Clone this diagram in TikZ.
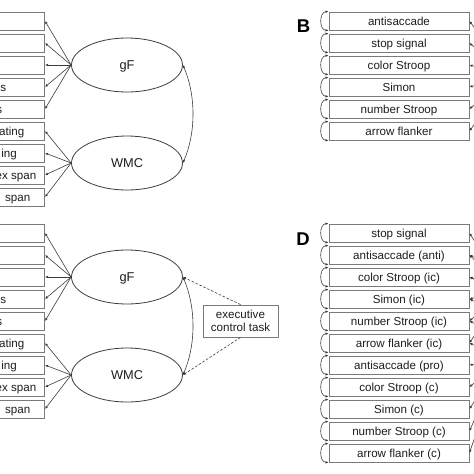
\documentclass[tikz,border=0pt]{standalone}
\usepackage{fontspec}
\setmainfont{Liberation Sans}
\usetikzlibrary{shapes.geometric,arrows.meta}
\definecolor{boxc}{HTML}{7A7A7A}
\definecolor{linec}{HTML}{3C3C3C}
\definecolor{txt}{HTML}{1E1E1E}
\begin{document}
\begin{tikzpicture}[x=1pt,y=-1pt,
  box/.style={draw=boxc, line width=0.9pt, minimum height=18pt, inner sep=0pt,
    text height=8.4pt, text depth=0pt, font=\fontsize{11.6}{13}\selectfont, text=txt},
  abox/.style={box, minimum width=100pt, anchor=east},
  rbox/.style={box, minimum width=140pt},
  btxt/.style={font=\fontsize{11.6}{13}\selectfont, text=txt, inner sep=0pt, anchor=base east},
  lat/.style={ellipse, draw=linec, line width=0.8pt, minimum width=111pt, minimum height=54pt,
    inner sep=0pt, text height=9.2pt, text depth=0pt, font=\fontsize{12.8}{14}\selectfont, text=txt},
  exbox/.style={draw=boxc, line width=0.9pt, minimum width=75pt, minimum height=32pt, inner sep=0pt,
    align=center, font=\fontsize{11.6}{13.6}\selectfont, text=txt},
  tip/.tip={Latex[length=3pt,width=2.6pt]},
  arr/.style={draw=linec, line width=0.6pt, -tip},
  biarr/.style={draw=linec, line width=0.6pt, tip-tip},
  dasharr/.style={draw=linec, line width=0.6pt, dashed, dash pattern=on 2.5pt off 1.8pt, -tip},
  panel/.style={font=\bfseries\fontsize{18.5}{20}\selectfont, text=black, inner sep=0pt}]
\useasboundingbox (0,0) rectangle (474,474);
\clip (0,0) rectangle (474,474);
\fill[white] (0,0) rectangle (474,474);

% ---------- panel A (top left) ----------
\foreach \i in {1,...,9} {
  \node[abox] (a\i) at (45,{21+22*(\i-1)}) {};
}
\node[btxt] (at4) at (6.5,91.2) {es};
\node[btxt] (at5) at (2.5,113.2) {s};
\node[btxt] (at6) at (24.5,135.2) {ating};
\node[btxt] (at7) at (17,157.2) {ing};
\node[btxt] (at8) at (36.5,179.2) {ex span};
\node[btxt] (at9) at (30.5,201.2) {span};
\node[lat] (gFa) at (127,65) {gF};
\node[lat] (WMCa) at (127,163) {WMC};
\foreach \i in {1,...,5} { \draw[arr] (gFa.west) -- (a\i.east); }
\foreach \i in {6,...,9} { \draw[arr] (WMCa.west) -- (a\i.east); }
\draw[biarr] (gFa.east) .. controls (196,95) and (196,133) .. (WMCa.east);

% ---------- panel C (bottom left) ----------
\foreach \i in {1,...,9} {
  \node[abox] (c\i) at (45,{233+22*(\i-1)}) {};
}
\node[btxt] (ct4) at (6.5,303.2) {es};
\node[btxt] (ct5) at (2.5,325.2) {s};
\node[btxt] (ct6) at (24.5,347.2) {ating};
\node[btxt] (ct7) at (17,369.2) {ing};
\node[btxt] (ct8) at (36.5,391.2) {ex span};
\node[btxt] (ct9) at (30.5,413.2) {span};
\node[lat] (gFc) at (127,277) {gF};
\node[lat] (WMCc) at (127,375) {WMC};
\foreach \i in {1,...,5} { \draw[arr] (gFc.west) -- (c\i.east); }
\foreach \i in {6,...,9} { \draw[arr] (WMCc.west) -- (c\i.east); }
\draw[biarr] (gFc.east) .. controls (196,307) and (196,345) .. (WMCc.east);
\node[exbox] (ex) at (240.5,321) {executive\\control task};
\draw[dasharr] (ex.north) -- (gFc.east);
\draw[dasharr] (ex.south) -- (WMCc.east);

% ---------- panel B (top right) ----------
\node[panel] (lB) at (303.5,26.5) {B};
\coordinate (bsrc) at (510,76);
\foreach \i/\t in {1/antisaccade,2/stop signal,3/color Stroop,4/Simon,5/number Stroop,6/arrow flanker} {
  \node[rbox] (b\i) at (399,{21+22*(\i-1)}) {\t};
  \draw[biarr] (b\i.north west) .. controls (319,{12+22*(\i-1)}) and (319,{30+22*(\i-1)}) .. (b\i.south west);
  \draw[arr] (bsrc) -- (b\i.east);
}

% ---------- panel D (bottom right) ----------
\node[panel] (lD) at (303,239) {D};
\coordinate (dsrc1) at (505,290);
\coordinate (dsrc2) at (500,362);
\foreach \i/\t in {1/stop signal,2/antisaccade (anti),3/color Stroop (ic),4/Simon (ic),5/number Stroop (ic),6/arrow flanker (ic),7/antisaccade (pro),8/color Stroop (c),9/Simon (c),10/number Stroop (c),11/arrow flanker (c)} {
  \node[rbox] (d\i) at (399,{233+22*(\i-1)}) {\t};
  \draw[biarr] (d\i.north west) .. controls (319,{224+22*(\i-1)}) and (319,{242+22*(\i-1)}) .. (d\i.south west);
}
\foreach \i in {1,...,6} { \draw[arr] (dsrc1) -- (d\i.east); }
\foreach \i in {7,...,11} { \draw[arr] (dsrc2) -- (d\i.east); }
\foreach \i in {2,...,6} {
  \coordinate (ds\i) at (488,{233+22*(\i-1)+9});
  \draw[arr] (ds\i) -- (d\i.east);
}
\end{tikzpicture}
\end{document}
